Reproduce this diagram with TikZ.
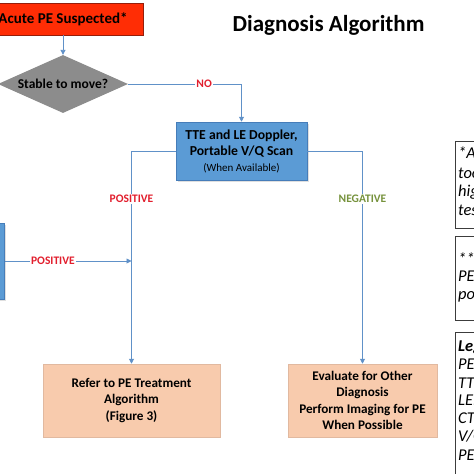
\documentclass[tikz,border=0pt]{standalone}
\usepackage{fontspec}
\setmainfont{Carlito}
\usetikzlibrary{arrows.meta,shapes.geometric,shadows}
\definecolor{boxblue}{RGB}{91,155,213}
\definecolor{boxblueedge}{RGB}{70,125,185}
\definecolor{lineblue}{RGB}{96,145,200}
\definecolor{labred}{RGB}{226,30,45}
\definecolor{labgreen}{RGB}{118,146,60}
\definecolor{peach}{RGB}{248,203,173}
\definecolor{peachedge}{RGB}{225,185,160}
\definecolor{dgrey}{RGB}{140,140,140}
\definecolor{alertred}{RGB}{255,45,5}
\definecolor{alertedge}{RGB}{150,30,10}
\definecolor{notegrey}{RGB}{60,60,60}
\begin{document}
\begin{tikzpicture}[x=1pt,y=-1pt,
  conn/.style={draw=lineblue, line width=0.9pt},
  arr/.style={conn, -{Triangle[length=5pt,width=5pt]}},
  lbl/.style={font=\bfseries\fontsize{11.5}{13}\selectfont, fill=white, inner sep=1.2pt},
  alertbox/.style={draw=alertedge, line width=0.6pt, fill=alertred, minimum width=160pt, minimum height=32pt, inner sep=0pt, font=\bfseries\fontsize{15}{17}\selectfont},
  decision/.style={diamond, aspect=2.24, fill=dgrey, minimum width=130pt, minimum height=58pt, inner sep=0pt, font=\bfseries\fontsize{13.5}{15}\selectfont},
  bluebox/.style={draw=boxblueedge, line width=0.5pt, fill=boxblue, inner sep=0pt, drop shadow={shadow xshift=1.5pt, shadow yshift=-1.5pt, opacity=0.25}},
  peachbox/.style={draw=peachedge, line width=0.5pt, fill=peach, inner sep=0pt, align=center, font=\bfseries\fontsize{13.2}{16.8}\selectfont, drop shadow={shadow xshift=1.2pt, shadow yshift=-1.2pt, opacity=0.2}},
  notebox/.style={draw=notegrey, line width=1pt, fill=white},
  notetext/.style={anchor=west, inner sep=0pt, font=\itshape\fontsize{16.5}{19}\selectfont},
]
\clip (0,0) rectangle (474,474);
\fill[white] (0,0) rectangle (474,474);

% title
\node[font=\bfseries\fontsize{23}{27}\selectfont] (title) at (328.5,25) {Diagnosis Algorithm};

% top boxes
\node[alertbox] (acute) at (63,19) {Acute PE Suspected*};
\node[decision] (stable) at (63,84) {Stable to move?};

% TTE box
\node[bluebox, minimum width=131pt, minimum height=58pt] (tte) at (241.5,151) {};
\node[align=center, inner sep=0pt, font=\bfseries\fontsize{13.7}{16}\selectfont] (ttetext) at (241.5,151)
  {TTE and LE Doppler,\\Portable V/Q Scan\\{\mdseries\fontsize{11}{16}\selectfont (When Available)}};

% left partial box
\node[bluebox, minimum width=30pt, minimum height=76pt] (leftbox) at (-10.5,261) {};

% bottom boxes
\node[peachbox, minimum width=177pt, minimum height=73pt] (refer) at (131.5,400.5)
  {Refer to PE Treatment\\Algorithm\\(Figure 3)};
\node[peachbox, minimum width=149pt, minimum height=73pt, font=\bfseries\fontsize{13.2}{16.3}\selectfont] (evaluate) at (362.5,400.5)
  {Evaluate for Other\\Diagnosis\\Perform Imaging for PE\\When Possible};

% connectors
\draw[arr] (acute.south) -- (stable.north);
\draw[arr] (stable.east) -| node[lbl, text=labred, pos=0.335] (lno) {NO} (tte.north);
\draw[arr] (tte.west) -| node[lbl, text=labred, pos=0.613] (lpos1) {POSITIVE} (refer.north);
\draw[arr] (tte.east) -| node[lbl, text=labgreen, pos=0.613] (lneg) {NEGATIVE} (evaluate.north);
\coordinate (join) at (refer.north |- leftbox.east);
\draw[arr] (leftbox.east) -- node[lbl, text=labred, pos=0.38] (lpos2) {POSITIVE} (join);

% notes on the right
\node[notebox, minimum width=60pt, minimum height=87pt, anchor=north west] (note1) at (455,141) {};
\node[notetext] (n1a) at (458,154) {*Acute PE suspected in};
\node[notetext] (n1b) at (458,173) {too unstable to move};
\node[notetext] (n1c) at (458,192) {high probability};
\node[notetext] (n1d) at (458,211) {testing};

\node[notebox, minimum width=60pt, minimum height=84pt, anchor=north west] (note2) at (455,236) {};
\node[notetext] (n2a) at (458,259) {**Consider};
\node[notetext] (n2b) at (458,277) {PE confirmed};
\node[notetext] (n2c) at (458,295) {positive};

\node[notebox, minimum width=60pt, minimum height=160pt, anchor=north west] (note3) at (455,332) {};
\node[notetext, font=\bfseries\itshape\fontsize{16.5}{19}\selectfont] (n3a) at (458,347) {Legend:};
\node[notetext] (n3b) at (458,365) {PE: Pulmonary Embolism};
\node[notetext] (n3c) at (458,383) {TTE: Transthoracic Echo};
\node[notetext] (n3d) at (458,401) {LE: Lower Extremity};
\node[notetext] (n3e) at (458,419) {CTPA: CT Angiography};
\node[notetext] (n3f) at (458,437) {V/Q: Ventilation/Perfusion};
\node[notetext] (n3g) at (458,455) {PERT};
\end{tikzpicture}
\end{document}
